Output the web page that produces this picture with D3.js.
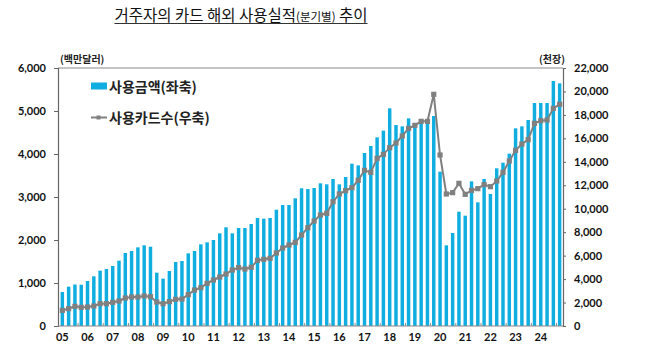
<!DOCTYPE html>
<html><head><meta charset="utf-8">
<script src="https://cdn.jsdelivr.net/npm/d3@7"></script>
<style>
body{margin:0;background:#fff;}
svg{display:block;}
</style></head>
<body>
<svg id="c" width="670" height="363"></svg>
<script>
const years = ["05","06","07","08","09","10","11","12","13","14","15","16","17","18","19","20","21","22","23","24"];
const leftTicks = [0,1000,2000,3000,4000,5000,6000];
const rightTicks = [0,2000,4000,6000,8000,10000,12000,14000,16000,18000,20000,22000];
// 사용금액 (백만달러), 2005Q1 ~ 2024Q4
const amount = [
790, 915, 965, 960, 1046, 1155, 1287, 1325, 1395, 1519, 1698, 1744, 1829, 1876, 1845, 1240,
1101, 1279, 1488, 1512, 1690, 1744, 1899, 1946, 2000, 2155, 2295, 2155, 2279, 2279, 2372, 2512,
2496, 2512, 2705, 2814, 2814, 2969, 3202, 3185, 3209, 3318, 3295, 3419, 3295, 3465, 3775, 3736,
4023, 4186, 4388, 4543, 5062, 4674, 4643, 4829, 4713, 4791, 4806, 4884, 3589, 1876, 2163, 2659,
2566, 3364, 2876, 3419, 3070, 3667, 3798, 4008, 4597, 4643, 4791, 5186, 5186, 5186, 5698, 5643];
// 사용카드수 (천장)
const cards = [
1336, 1478, 1677, 1592, 1620, 1705, 1904, 1904, 2018, 2132, 2388, 2473, 2473, 2558, 2501, 2046,
1904, 2075, 2274, 2300, 2672, 3070, 3268, 3638, 3922, 4178, 4434, 4775, 4974, 4860, 5002, 5600,
5685, 5770, 6225, 6651, 6907, 7134, 7760, 8385, 8953, 9465, 9607, 10600, 11256, 11540, 11796, 12421,
13274, 13103, 14297, 14638, 15207, 15605, 16201, 16855, 17111, 17452, 17452, 19757, 14581, 11256, 11370, 12165,
11228, 11569, 11711, 12052, 11881, 12364, 13103, 14069, 14979, 15520, 15889, 17282, 17509, 17566, 18560, 18901];

const svg = d3.select("#c");
const L = 58, R = 563, T = 68, B = 326;
const numFont = "Lato, 'Noto Sans', sans-serif";
const krFont = "'Noto Sans CJK KR', sans-serif";
const blue = "#10aee0", gray = "#808080";

const x = d3.scaleBand().domain(d3.range(amount.length)).range([59.2, 562.8]).paddingInner(0.45).paddingOuter(0.225);
const yL = d3.scaleLinear().domain([0,6000]).range([B,T]);
const yR = d3.scaleLinear().domain([0,22000]).range([B,T]);
const cx = i => x(i) + x.bandwidth()/2;

// title
const title = svg.append("text").attr("x", 241).attr("y", 21).attr("text-anchor","middle")
  .attr("font-family", krFont).attr("font-size", 15.5).attr("fill","#111");
title.append("tspan").text("거주자의 카드 해외 사용실적");
title.append("tspan").attr("font-size", 11.5).text("(분기별)");
title.append("tspan").text(" 추이");
const tb = title.node().getBBox();
svg.append("line").attr("x1", tb.x).attr("x2", tb.x+tb.width).attr("y1", 23.5).attr("y2", 23.5)
  .attr("stroke","#333").attr("stroke-width",1);

// unit labels
svg.append("text").attr("x",60).attr("y",63).attr("font-family",krFont).attr("font-weight","bold")
  .attr("font-size",10).attr("fill","#222").text("(백만달러)");
svg.append("text").attr("x",565).attr("y",63).attr("text-anchor","end").attr("font-family",krFont).attr("font-weight","bold")
  .attr("font-size",10).attr("fill","#222").text("(천장)");

// bars
svg.append("g").selectAll("rect").data(amount).join("rect")
  .attr("x",(d,i)=>x(i)).attr("width",x.bandwidth())
  .attr("y",d=>yL(d)).attr("height",d=>B-yL(d)).attr("fill",blue);

// frame
svg.append("line").attr("x1",L).attr("x2",R).attr("y1",T).attr("y2",T).attr("stroke","#8a8a8a").attr("stroke-width",1);

// left axis
const gl = svg.append("g").attr("transform",`translate(${L},0)`)
  .call(d3.axisLeft(yL).tickValues(leftTicks).tickFormat(d3.format(",")).tickSize(4).tickPadding(8));
// right axis
const gr = svg.append("g").attr("transform",`translate(${R},0)`)
  .call(d3.axisRight(yR).tickValues(rightTicks).tickFormat(d3.format(",")).tickSize(3).tickPadding(8));
[gl,gr].forEach(g=>{
  g.select(".domain").attr("stroke","#666").attr("stroke-width",1.2);
  g.selectAll(".tick line").attr("stroke","#666");
  g.selectAll(".tick text").attr("font-family",numFont).attr("font-weight","bold").attr("font-size",11).attr("fill","#111");
});

// bottom axis
svg.append("line").attr("x1",L).attr("x2",R).attr("y1",B).attr("y2",B).attr("stroke","#888").attr("stroke-width",1.2);
const gb = svg.append("g");
years.forEach((yr,k)=>{
  const i = k*4;
  const tx = x(i+3) - x.step()*x.paddingInner()/2;
  gb.append("line").attr("x1",tx).attr("x2",tx).attr("y1",B-3).attr("y2",B).attr("stroke","#888");
  gb.append("text").attr("x",cx(i)).attr("y",B+15).attr("text-anchor","middle")
    .attr("font-family",numFont).attr("font-weight","bold").attr("font-size",11).attr("fill","#111").text(yr);
});

// line
const line = d3.line().x((d,i)=>cx(i)).y(d=>yR(d));
svg.append("path").datum(cards).attr("d",line).attr("fill","none").attr("stroke",gray).attr("stroke-width",2);
svg.append("g").selectAll("rect").data(cards).join("rect")
  .attr("x",(d,i)=>cx(i)-2.6).attr("y",d=>yR(d)-2.6).attr("width",5.2).attr("height",5.2).attr("fill",gray);

// legend
svg.append("rect").attr("x",91).attr("y",82.5).attr("width",16).attr("height",7).attr("fill",blue);
svg.append("text").attr("x",109).attr("y",91.5).attr("font-family",krFont).attr("font-weight","bold")
  .attr("font-size",14).attr("fill","#222").text("사용금액(좌축)");
svg.append("line").attr("x1",91).attr("x2",107).attr("y1",117.5).attr("y2",117.5).attr("stroke",gray).attr("stroke-width",2);
svg.append("rect").attr("x",96.5).attr("y",115.5).attr("width",4).attr("height",4).attr("fill",gray);
svg.append("text").attr("x",109).attr("y",122.5).attr("font-family",krFont).attr("font-weight","bold")
  .attr("font-size",14).attr("fill","#222").text("사용카드수(우축)");
</script>
</body></html>
